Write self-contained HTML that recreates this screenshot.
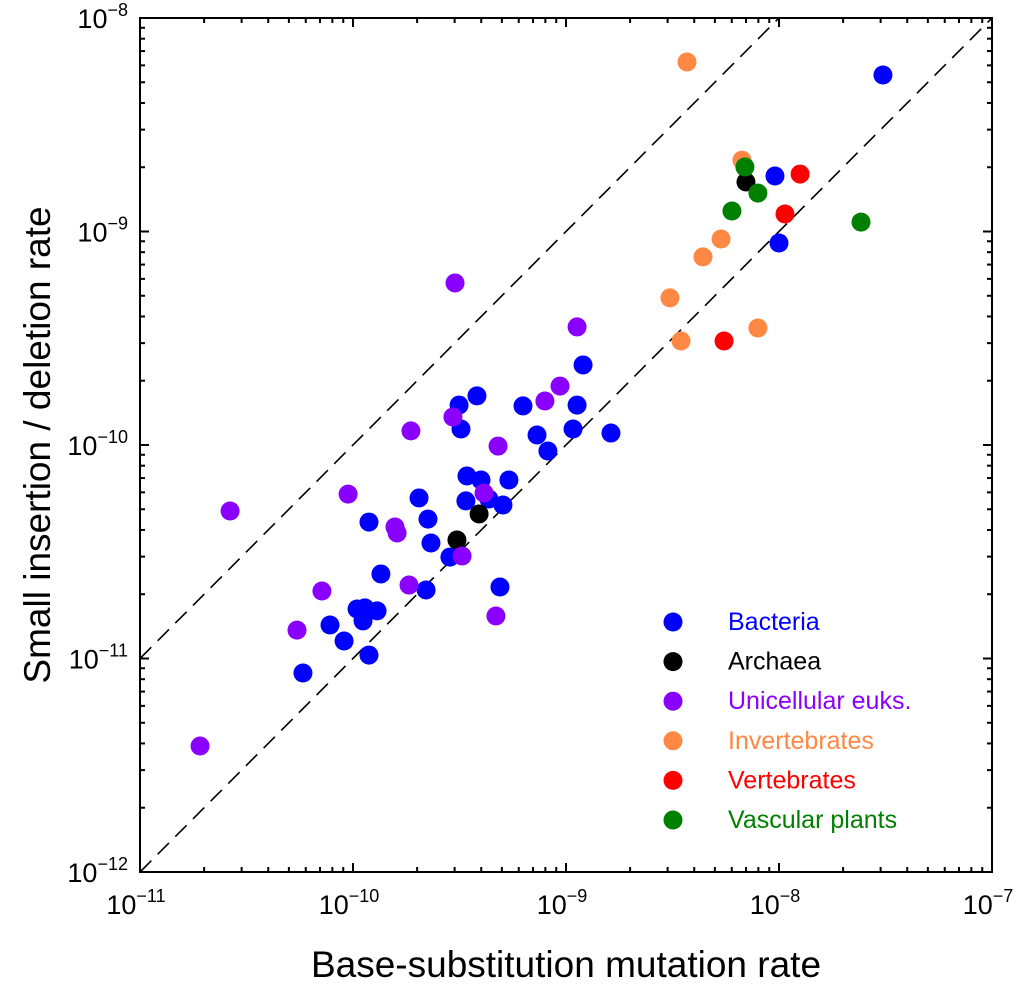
<!DOCTYPE html>
<html><head><meta charset="utf-8"><style>
body{margin:0;background:#fff;}
svg{display:block;font-family:"Liberation Sans",Arial,sans-serif;}
</style></head><body>
<svg id="chart" width="1021" height="992" viewBox="0 0 1021 992" xmlns="http://www.w3.org/2000/svg">
<g id="ticks"></g>
<g id="lines"></g>
<g id="points"></g>
<rect x="140" y="18" width="852" height="854" fill="none" stroke="#000" stroke-width="2"/>
<g id="labels"></g>
<text x="566" y="977" text-anchor="middle" font-size="37">Base-substitution mutation rate</text>
<text transform="translate(50,445) rotate(-90)" text-anchor="middle" font-size="37">Small insertion / deletion rate</text>
<g id="legend"></g>
</svg>
<script>
const groupNames=["Bacteria","Archaea","Unicellular euks.","Invertebrates","Vertebrates","Vascular plants"];
const groupColors=["#0000ff","#000000","#8a00ff","#ff8844","#ff0000","#008000"];
const bacteriaX=[-7.512,-8.019,-8.0,-8.920,-8.948,-8.967,-8.789,-9.202,-9.136,-9.085,-9.418,-9.502,-9.493,-9.465,-9.470,-9.399,-9.268,-9.296,-9.362,-9.690,-9.648,-9.634,-9.545,-9.869,-9.925,-9.310,-9.657,-9.887,-9.944,-9.981,-9.953,-10.108,-10.042,-9.925,-10.235];
const bacteriaY=[-8.267,-8.740,-9.054,-9.625,-9.813,-9.925,-9.944,-9.817,-9.953,-10.028,-9.770,-9.813,-9.925,-10.145,-10.262,-10.164,-10.164,-10.281,-10.253,-10.248,-10.347,-10.459,-10.525,-10.604,-10.361,-10.665,-10.679,-10.777,-10.763,-10.768,-10.824,-10.843,-10.918,-10.984,-11.068];
const archaeaX=[-8.155,-9.408,-9.512];
const archaeaY=[-8.768,-10.323,-10.445];
const unicellX=[-9.521,-8.948,-9.028,-9.099,-9.531,-9.728,-9.319,-10.023,-9.385,-9.803,-9.793,-9.488,-9.737,-10.146,-9.329,-10.263,-10.577,-10.718];
const unicellY=[-9.241,-9.447,-9.724,-9.794,-9.869,-9.934,-10.005,-10.230,-10.225,-10.384,-10.412,-10.520,-10.656,-10.684,-10.801,-10.867,-10.309,-11.410];
const invertX=[-8.432,-8.174,-8.272,-8.357,-8.512,-8.460,-8.099];
const invertY=[-8.206,-8.666,-9.035,-9.119,-9.311,-9.513,-9.452];
const vertX=[-7.901,-7.972,-8.258];
const vertY=[-8.731,-8.918,-9.513];
const plantX=[-8.160,-8.099,-8.221,-7.615];
const plantY=[-8.698,-8.820,-8.904,-8.956];
const xTickExps=[-11,-10,-9,-8,-7];
const yTickExps=[-12,-11,-10,-9,-8];
const NS="http://www.w3.org/2000/svg";
const X0=140,X1=992,Y0=872,Y1=18;
const sx=l=>X0+(l+11)/4*(X1-X0);
const sy=l=>Y0-(l+12)/4*(Y0-Y1);
function mk(tag,attrs,parent){const e=document.createElementNS(NS,tag);for(const k in attrs)e.setAttribute(k,attrs[k]);parent.appendChild(e);return e;}
const tk=document.getElementById('ticks');
for(let d=-11;d<-7;d++){for(let m=1;m<10;m++){const l=d+Math.log10(m);const x=sx(l);const len=m===1?9:5;
 const a=mk('line',{x1:x,x2:x,y1:Y0,y2:Y0-len,stroke:'#000','stroke-width':2},tk);
 const b=mk('line',{x1:x,x2:x,y1:Y1,y2:Y1+len,stroke:'#000','stroke-width':2},tk);}}
for(let d=-12;d<-8;d++){for(let m=1;m<10;m++){const l=d+Math.log10(m);const y=sy(l);const len=m===1?9:5;
 const a=mk('line',{x1:X0,x2:X0+len,y1:y,y2:y,stroke:'#000','stroke-width':2},tk);
 const b=mk('line',{x1:X1,x2:X1-len,y1:y,y2:y,stroke:'#000','stroke-width':2},tk);}}
const ln=document.getElementById('lines');
const l1=mk('line',{x1:sx(-11),y1:sy(-12),x2:sx(-7),y2:sy(-8),stroke:'#000','stroke-width':1.6,'stroke-dasharray':'16,9'},ln);


const l2=mk('line',{x1:sx(-11),y1:sy(-11),x2:sx(-8),y2:sy(-8),stroke:'#000','stroke-width':1.6,'stroke-dasharray':'16,9'},ln);


const pts=document.getElementById('points');
const series=[[bacteriaX,bacteriaY],[archaeaX,archaeaY],[unicellX,unicellY],[invertX,invertY],[vertX,vertY],[plantX,plantY]];
series.forEach((s,g)=>{s[0].forEach((xv,i)=>{const c=mk('circle',{cx:sx(xv),cy:sy(s[1][i]),r:9.5,fill:groupColors[g]},pts);
 
 });});
const lb=document.getElementById('labels');
xTickExps.forEach(e=>{const t=mk('text',{x:sx(e)-4,y:914,'text-anchor':'middle','font-size':27},lb);
 
 
 t.innerHTML='10<tspan font-size="18" dy="-12">\u2212'+(-e)+'</tspan>';});
yTickExps.forEach(e=>{const t=mk('text',{x:128,y:sy(e)+10,'text-anchor':'end','font-size':27},lb);
 
 
 t.innerHTML='10<tspan font-size="18" dy="-12">\u2212'+(-e)+'</tspan>';});
const lg=document.getElementById('legend');
groupNames.forEach((n,i)=>{const y=622+i*39.6;
 const c=mk('circle',{cx:673,cy:y,r:9.5,fill:groupColors[i]},lg);
 
 
 const t=mk('text',{x:728,y:y+8,'font-size':25,fill:groupColors[i]},lg);
 
 
 t.textContent=n;});
</script>
</body></html>
